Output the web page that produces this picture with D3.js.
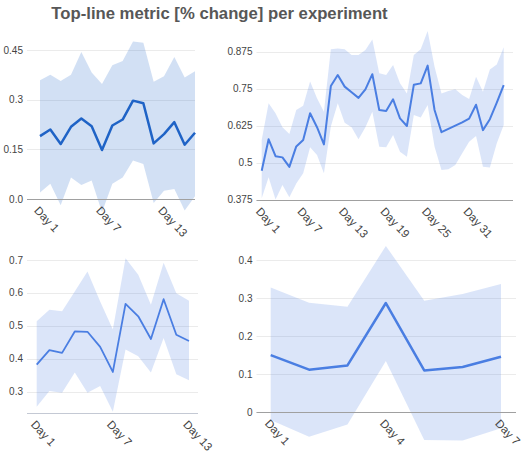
<!DOCTYPE html>
<html lang="en">
    <head>
        <meta charset="utf-8">
        <title>Top-line metric per experiment</title>
        <script type="text/javascript" src="https://d3js.org/d3.v7.min.js"></script>
        <style>
            body {
                margin: 0;
                background: white;
            }
            text {
                font-family: Arial, "Liberation Sans", sans-serif;
            }
        </style>
    </head>
    <body>
        <script>
            const w = 530;
            const h = 461;

            // Experiment 1 (16 days)
            const days1 = d3.range(1, 17);
            const mean1 = [0.190, 0.210, 0.166, 0.218, 0.243, 0.220, 0.148, 0.222,
                           0.240, 0.297, 0.289, 0.168, 0.196, 0.232, 0.164, 0.200];
            const upper1 = [0.359, 0.375, 0.356, 0.375, 0.444, 0.382, 0.347, 0.404,
                            0.417, 0.476, 0.472, 0.354, 0.371, 0.429, 0.367, 0.386];
            const lower1 = [0.020, 0.046, -0.019, 0.065, 0.042, 0.056, -0.040, 0.046,
                            0.065, 0.116, 0.106, -0.012, 0.025, 0.030, -0.035, 0.008];
            const yTicks1 = [0, 0.15, 0.3, 0.45];
            const yLabels1 = ["0.0", "0.15", "0.3", "0.45"];
            const xTicks1 = [1, 7, 13];

            // Experiment 2 (36 days)
            const days2 = d3.range(1, 37);
            const mean2 = [0.473, 0.579, 0.522, 0.518, 0.486, 0.555, 0.577, 0.667, 0.620,
                           0.562, 0.759, 0.796, 0.757, 0.738, 0.719, 0.748, 0.799, 0.678,
                           0.675, 0.714, 0.650, 0.624, 0.763, 0.768, 0.828, 0.678, 0.603,
                           0.614, 0.625, 0.636, 0.649, 0.696, 0.610, 0.647, 0.703, 0.762];
            const upper2 = [0.577, 0.701, 0.667, 0.620, 0.597, 0.678, 0.692, 0.774, 0.718,
                            0.672, 0.883, 0.886, 0.883, 0.864, 0.864, 0.881, 0.916, 0.802,
                            0.796, 0.830, 0.768, 0.734, 0.864, 0.883, 0.945, 0.824, 0.734,
                            0.742, 0.748, 0.729, 0.715, 0.790, 0.740, 0.815, 0.832, 0.890];
            const lower2 = [0.380, 0.451, 0.376, 0.425, 0.383, 0.430, 0.464, 0.552, 0.526,
                            0.464, 0.622, 0.701, 0.635, 0.620, 0.579, 0.620, 0.672, 0.554,
                            0.552, 0.594, 0.537, 0.520, 0.661, 0.653, 0.695, 0.554, 0.475,
                            0.478, 0.492, 0.532, 0.571, 0.590, 0.486, 0.484, 0.566, 0.627];
            const yTicks2 = [0.375, 0.5, 0.625, 0.75, 0.875];
            const yLabels2 = ["0.375", "0.5", "0.625", "0.75", "0.875"];
            const xTicks2 = [1, 7, 13, 19, 25, 31];

            // Experiment 3 (13 days)
            const days3 = d3.range(1, 14);
            const mean3 = [0.382, 0.426, 0.418, 0.483, 0.482, 0.436, 0.360,
                           0.567, 0.529, 0.460, 0.581, 0.473, 0.454];
            const upper3 = [0.514, 0.549, 0.544, 0.604, 0.665, 0.574, 0.489,
                            0.705, 0.655, 0.564, 0.692, 0.599, 0.576];
            const lower3 = [0.254, 0.302, 0.297, 0.358, 0.297, 0.317, 0.239,
                            0.428, 0.408, 0.358, 0.463, 0.353, 0.335];
            const yTicks3 = [0.3, 0.4, 0.5, 0.6, 0.7];
            const yLabels3 = ["0.3", "0.4", "0.5", "0.6", "0.7"];
            const xTicks3 = [1, 7, 13];

            // Experiment 4 (7 days)
            const days4 = d3.range(1, 8);
            const mean4 = [0.150, 0.112, 0.123, 0.287, 0.110, 0.119, 0.146];
            const upper4 = [0.328, 0.288, 0.277, 0.437, 0.293, 0.311, 0.337];
            const lower4 = [-0.020, -0.064, -0.032, 0.135, -0.073, -0.074, -0.042];
            const yTicks4 = [0, 0.1, 0.2, 0.3, 0.4];
            const yLabels4 = ["0", "0.1", "0.2", "0.3", "0.4"];
            const xTicks4 = [1, 4, 7];

            const svg = d3.select("body")
                        .append("svg")
                        .attr("width", w)
                        .attr("height", h);

            svg.append("text")
               .attr("x", 219.5)
               .attr("y", 18.5)
               .attr("text-anchor", "middle")
               .attr("font-size", "16.7px")
               .attr("font-weight", "bold")
               .attr("fill", "#575757")
               .text("Top-line metric [% change] per experiment");

            //Draws one experiment panel
            function drawPanel(p) {
                const g = svg.append("g");

                let xScale = d3.scalePoint()
                                .domain(p.days)
                                .range(p.pointX);

                let yScale = d3.scaleLinear()
                                .domain(p.yDomain)
                                .range(p.yRange);

                // gridlines
                g.selectAll("line.grid")
                 .data(p.yTicks)
                 .enter()
                 .append("line")
                 .attr("class", "grid")
                 .attr("x1", p.gridX[0])
                 .attr("x2", p.gridX[1])
                 .attr("y1", d => Math.round(yScale(d)) + 0.5)
                 .attr("y2", d => Math.round(yScale(d)) + 0.5)
                 .attr("stroke", "#ebebeb")
                 .attr("stroke-width", 1);

                // y labels
                g.selectAll("text.ylab")
                 .data(p.yTicks)
                 .enter()
                 .append("text")
                 .attr("class", "ylab")
                 .attr("x", p.gridX[0] - 4)
                 .attr("y", d => yScale(d) + 3.5)
                 .attr("text-anchor", "end")
                 .attr("font-size", "10px")
                 .attr("fill", "#444")
                 .text((d, i) => p.yLabels[i]);

                // confidence band
                let area = d3.area()
                             .x((d, i) => xScale(p.days[i]))
                             .y0((d, i) => yScale(p.lower[i]))
                             .y1((d, i) => yScale(p.upper[i]));

                g.append("path")
                 .datum(p.mean)
                 .attr("d", area)
                 .attr("fill", p.color)
                 .attr("fill-opacity", 0.2);

                // baseline
                let by = Math.round(yScale(p.base)) + 0.5;
                g.append("line")
                 .attr("x1", p.gridX[0])
                 .attr("x2", p.gridX[1])
                 .attr("y1", by)
                 .attr("y2", by)
                 .attr("stroke", p.baseColor)
                 .attr("stroke-width", 1);

                // mean line
                let line = d3.line()
                             .x((d, i) => xScale(p.days[i]))
                             .y(d => yScale(d));

                g.append("path")
                 .datum(p.mean)
                 .attr("d", line)
                 .attr("fill", "none")
                 .attr("stroke", p.color)
                 .attr("stroke-width", p.lineWidth)
                 .attr("stroke-linejoin", "round");

                // slanted day labels
                g.selectAll("text.xlab")
                 .data(p.xTicks)
                 .enter()
                 .append("text")
                 .attr("class", "xlab")
                 .attr("transform", d => "translate(" + (xScale(d) - 6.5) + "," + (by + 11.5) + ") rotate(47)")
                 .attr("font-size", "11.5px")
                 .attr("fill", "#444")
                 .text(d => "Day " + d);
            }

            drawPanel({
                days: days1, mean: mean1, upper: upper1, lower: lower1,
                yTicks: yTicks1, yLabels: yLabels1, xTicks: xTicks1,
                gridX: [27, 195], pointX: [40, 195],
                yDomain: [0, 0.45], yRange: [199, 50], base: 0,
                color: "#1f63c6", lineWidth: 2.5, baseColor: "#a0a0a0"
            });

            drawPanel({
                days: days2, mean: mean2, upper: upper2, lower: lower2,
                yTicks: yTicks2, yLabels: yLabels2, xTicks: xTicks2,
                gridX: [256.5, 513], pointX: [261.7, 503.7],
                yDomain: [0.375, 0.875], yRange: [199.7, 51.7], base: 0.375,
                color: "#4a7ee2", lineWidth: 2, baseColor: "#a0a0a0"
            });

            drawPanel({
                days: days3, mean: mean3, upper: upper3, lower: lower3,
                yTicks: yTicks3, yLabels: yLabels3, xTicks: xTicks3,
                gridX: [27, 198], pointX: [36.7, 189],
                yDomain: [0.3, 0.7], yRange: [391.7, 260], base: 0.236,
                color: "#4a7ee2", lineWidth: 1.8, baseColor: "#c4c9d4"
            });

            drawPanel({
                days: days4, mean: mean4, upper: upper4, lower: lower4,
                yTicks: yTicks4, yLabels: yLabels4, xTicks: xTicks4,
                gridX: [256.5, 516], pointX: [270.7, 501],
                yDomain: [0, 0.4], yRange: [412.3, 260], base: 0,
                color: "#4a7ee2", lineWidth: 2.5, baseColor: "#a0a0a0"
            });
        </script>
    </body>
</html>
